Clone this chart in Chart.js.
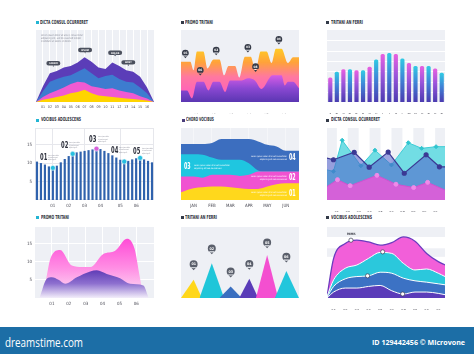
<!DOCTYPE html>
<html>
<head>
<meta charset="utf-8">
<title>Infographic charts</title>
<script src="https://cdn.jsdelivr.net/npm/chart.js@4.4.1/dist/chart.umd.min.js"></script>
<style>
  html, body { margin: 0; padding: 0; background: #fff; }
  #wrap { position: relative; width: 474px; height: 354px; overflow: hidden; background: #fff; }
  #wrap canvas { position: absolute; }
  .t { position: absolute; white-space: pre; transform-origin: 0 50%; line-height: 1; }
  .sq { position: absolute; width: 3px; height: 3px; }
  #foot { position: absolute; left: 0; top: 327px; width: 474px; height: 27px; background: #1c6ea6; }
</style>
</head>
<body>
<div id="wrap"><div id="foot"></div></div>
<script>
// ---------- data ----------
// 1. stacked mountain (cumulative tops)
var p1X = [0, 1, 2, 3, 4, 5, 6, 7, 8, 9, 10, 11, 12, 13, 14, 15, 16, 17];
var p1Ticks = ['01','02','03','04','05','06','07','08','09','10','11','12','13','14','15','16'];
var p1Purple = [0, 22, 40, 43, 48, 50, 55, 62, 56, 48, 46, 55, 50, 44, 42, 35, 20, 0];
var p1Blue = [0, 15, 28, 32, 35, 37, 42, 47, 40, 33, 36, 38, 32, 28, 27, 20, 12, 0];
var p1Pink = [0, 7, 12, 16, 20, 25, 28, 27, 22, 20, 18, 19, 16, 14, 12, 8, 5, 0];
var p1Yellow = [0, 3, 5, 7, 9, 12, 14, 17, 12, 9, 8, 7, 6, 5, 4, 3, 2, 0];
var p1NoteX = [2.5, 7.07, 11.4, 13.3];
var p1NoteY = [53.8, 72.2, 68.5, 55.1];
var p1NoteText = ['LOREM', 'IPSUM', 'DOLOR', 'AMET'];

// 2. rounded step layers
var p2Ticks = ['01', '02', '03', '04', '05', '06'];
var p2TopX = [0.13, 0.66, 0.85, 1.04, 1.41, 1.64, 1.98, 2.33, 2.59, 2.84, 3.22, 3.46, 3.78, 4.11, 4.39, 4.68, 5.02, 5.30, 5.55, 5.87, 6.24, 6.53, 6.87];
var p2TopY = [56, 56, 44, 70, 70, 46.5, 59, 59, 37, 50, 50, 34, 63, 63, 43, 70, 70, 54, 74, 74, 54, 62, 62];
var p2LowX = [0.13, 0.47, 0.76, 1.04, 1.41, 1.70, 1.98, 2.33, 2.65, 2.93, 3.6, 3.97, 4.35, 4.73, 5.36, 5.87, 6.06, 6.24, 6.53, 6.87];
var p2LowY = [16, 16, 5, 28, 28, 16, 28, 28, 14, 30, 30, 33, 30, 18, 37, 37, 23, 28, 28, 19];
var p2PinX = [0.38, 1.23, 2.14, 3.95, 4.39, 5.72];
var p2PinY = [68, 44, 72, 76, 49, 87];
var p2PinText = ['05', '06', '02', '03', '08', '04'];

// 3. bars A..R
var p3Labels = ['A','B','C','D','E','F','G','H','I','J','K','L','M','N','O','P','Q','R'];
var p3Values = [34, 42, 45.6, 45.6, 44, 44, 49, 59, 66.5, 68, 66.5, 60.5, 54, 50, 50, 50, 46.5, 40.5];

// 4. thin bars with markers
var p4Values = [10.4, 10.0, 9.6, 9.1, 8.7, 9.3, 10.2, 11.1, 11.9, 12.5, 12.9, 13.1, 13.3, 13.5, 13.7,
                13.9, 13.8, 13.3, 12.7, 12.1, 11.5, 10.9, 10.4, 10.6, 11.0, 11.3, 11.4, 11.0, 10.6, 10.2];
var p4Ticks = ['', '', '', '', '01', '', '', '', '02', '', '', '', '03', '', '', '', '04', '', '', '', '', '05', '', '', '', '06', '', '', '', ''];
var p4YTicks = [5, 10, 15];
var p4MarkIdx = [4, 9, 15, 22, 26];

// 5. flowing stacked bands (cumulative tops)
var p5X = [-0.68, 0, 0.5, 1, 1.5, 2, 2.5, 3, 3.5, 4, 4.5, 5, 5.72];
var p5Ticks = ['JAN', 'FEB', 'MAR', 'APR', 'MAY', 'JUN'];
var p5Blue = [77.7, 77.7, 77.7, 79, 84.7, 84.7, 84.7, 84.7, 81.4, 76.7, 74.4, 68.4, 68.4];
var p5Cyan = [63.7, 63.7, 63, 59, 55.8, 55.8, 55.8, 51, 41, 39.5, 39.5, 39.5, 39.5];
var p5Pink = [32.6, 32.6, 31, 34.9, 34.9, 34.9, 33.5, 34.9, 39.5, 39.5, 39.5, 39.5, 39.5];
var p5Yellow = [10.7, 16.3, 17.7, 18.6, 18.6, 17.7, 16.3, 15.3, 15.3, 18.6, 21.9, 23.3, 23.3];

// 6. overlapping areas
var p6Ticks = ['01','02','03','04','05','06','07','08','09','10'];
var p6YTicks = [0, 5, 10, 15, 20, 25, 30];
var p6CyanX = [0.1, 0.69, 1.49, 3.2, 4.49, 6.0, 7.54, 8.76, 10.08, 10.9];
var p6CyanY = [14.5, 13.8, 28.8, 16.5, 24, 16.9, 27.6, 24.9, 25.7, 25.7];
var p6NavyX = [0.1, 0.69, 2.59, 3.96, 5.7, 7.17, 9.17, 10.39, 10.9];
var p6NavyY = [20.2, 19.4, 23, 15.8, 23.1, 12.9, 21.8, 16, 16];
var p6PinkX = [0.1, 1.06, 2.22, 4.67, 6.41, 8.03, 9.31, 10.9];
var p6PinkY = [6.5, 9.8, 6.9, 11.9, 7.6, 6, 8.5, 4.8];

// 7. two smooth areas
var p7Ticks = ['01', '02', '03', '04', '05', '06'];
var p7YTicks = [5, 10, 15];
var p7PinkX = [0.27, 0.6, 0.91, 1.49, 2.18, 2.78, 3.27, 4.05, 4.75, 5.44, 5.9, 6.2, 6.45];
var p7PinkY = [0, 4, 10.8, 13.2, 8.9, 8.5, 8.5, 12.1, 13, 16.3, 13.5, 6, 0];
var p7PurpleX = [0.27, 0.7, 1.0, 1.39, 1.79, 2.48, 3.27, 3.66, 4.25, 5.04, 5.63, 6.42, 6.72];
var p7PurpleY = [0, 5.3, 5.7, 5.0, 3.9, 5.7, 7.3, 7.6, 6.6, 5.4, 3.9, 3.4, 0.2];

// 8. peaks with pins
var p8Left = [0, 15.7, 32.6, 49.4, 63.5, 79.5];
var p8Apex = [10.7, 26.1, 42.1, 57.9, 73, 89.3];
var p8Right = [17.7, 36.5, 51.4, 65.4, 82.3, 100];
var p8Height = [25.6, 48.8, 16.3, 27, 60.5, 38.1];
var p8PinY = [47.4, 69.8, 37.2, 47.9, 78.1, 58.1];
var p8PinText = ['01', '02', '03', '04', '05', '06'];

// 9. smooth layered areas (cumulative tops)
var p9X = [0.43, 1, 2, 3, 4, 5, 6, 7, 8, 9, 10, 10.58];
var p9Ticks = ['01','02','03','04','05','06','07','08','09','10'];
var p9Pink = [2, 55.8, 76.7, 81.4, 79, 74.4, 78.1, 86, 80, 62.8, 51.2, 46.5];
var p9Cyan = [2, 25.6, 41.9, 46.5, 55.8, 64.2, 62.8, 48.8, 39.5, 40.9, 34.9, 30.2];
var p9Blue = [1, 16.3, 27, 30.2, 31.2, 36.3, 34.9, 27.9, 24.2, 22.3, 20, 18.6];
var p9Violet = [0, 8.4, 14, 14, 16.3, 17.7, 10.2, 5.6, 8.4, 8.4, 6.5, 4.7];
var p9MarkX = [2.49, 5.22, 3.92, 6.94];
var p9MarkY = [81.4, 65, 31.2, 5.6];

// ---------- helpers ----------
var FONT = '"DejaVu Sans Condensed", "DejaVu Sans", sans-serif';
Chart.defaults.font.family = FONT;
Chart.defaults.color = '#4a4a55';
Chart.defaults.elements.point.radius = 0;
Chart.defaults.elements.point.hoverRadius = 0;

var wrap = document.getElementById('wrap');

function canvasAt(x, y, w, h) {
  var c = document.createElement('canvas');
  c.width = w; c.height = h;
  c.style.left = x + 'px'; c.style.top = y + 'px';
  c.style.width = w + 'px'; c.style.height = h + 'px';
  wrap.appendChild(c);
  return c;
}

function xy(xs, ys) {
  return xs.map(function (x, i) { return { x: x, y: ys[i] }; });
}

function fixedTicks(values) {
  return function (s) { s.ticks = values.map(function (v) { return { value: v }; }); };
}

function noPad(s) { s.paddingLeft = 0; s.paddingRight = 0; s.paddingTop = 0; s.paddingBottom = 0; }
function fitH(h) { return function (s) { s.height = h; noPad(s); }; }
function fitW(w) { return function (s) { s.width = w; noPad(s); }; }

function tickStyle(labels, size) {
  var t = { font: { size: size || 4.4 }, color: '#4a4a55', padding: 3, maxRotation: 0, autoSkip: false };
  if (labels) t.callback = function (v, i) { return labels[i]; };
  return t;
}

// vertical gradient between two values of the y scale
function vGrad(stops, topVal, botVal) {
  return function (c) {
    var ch = c.chart, a = ch.chartArea;
    if (!a) return stops[0];
    var y0 = ch.scales.y.getPixelForValue(topVal), y1 = ch.scales.y.getPixelForValue(botVal);
    var g = ch.ctx.createLinearGradient(0, y0, 0, y1);
    stops.forEach(function (s, i) { g.addColorStop(i / (stops.length - 1), s); });
    return g;
  };
}

function area(data, color, extra) {
  var d = { data: data, backgroundColor: color, fill: 'origin', borderWidth: 0, borderColor: 'transparent', tension: 0 };
  for (var k in extra) d[k] = extra[k];
  return d;
}

function baseOptions(scales, plugins) {
  var p = { legend: { display: false }, tooltip: { enabled: false } };
  for (var k in plugins) p[k] = plugins[k];
  return {
    responsive: false, animation: false, devicePixelRatio: 1, events: [],
    layout: { padding: 0, autoPadding: false },
    plugins: p, scales: scales
  };
}

// plot background, bands and frame
var panelBg = {
  id: 'panelBg',
  beforeDraw: function (chart, args, o) {
    if (!o.color) return;
    var a = chart.chartArea, ctx = chart.ctx;
    ctx.save();
    ctx.fillStyle = o.color;
    ctx.fillRect(a.left, a.top, a.right - a.left, a.bottom - a.top);
    ctx.fillStyle = o.bandColor || '#eef0f5';
    (o.xBands || []).forEach(function (b) {
      var x0 = Math.max(a.left, chart.scales.x.getPixelForValue(b[0]));
      var x1 = Math.min(a.right, chart.scales.x.getPixelForValue(b[1]));
      ctx.fillRect(x0, a.top, x1 - x0, a.bottom - a.top);
    });
    (o.yBands || []).forEach(function (b) {
      var y0 = chart.scales.y.getPixelForValue(b[1]), y1 = chart.scales.y.getPixelForValue(b[0]);
      ctx.fillRect(a.left, y0, a.right - a.left, y1 - y0);
    });
    if (o.stroke) {
      ctx.strokeStyle = o.stroke; ctx.lineWidth = 1;
      ctx.strokeRect(a.left + 0.5, a.top + 0.5, a.right - a.left - 1, a.bottom - a.top - 1);
    }
    ctx.restore();
  }
};

// map pins / pill callouts
var pinPlugin = {
  id: 'pins',
  afterDatasetsDraw: function (chart, args, o) {
    if (!o.xs) return;
    var ctx = chart.ctx, sx = chart.scales.x, sy = chart.scales.y;
    ctx.save();
    o.xs.forEach(function (xv, i) {
      var px = sx.getPixelForValue(xv), py = sy.getPixelForValue(o.ys[i]);
      ctx.fillStyle = o.color;
      ctx.beginPath();
      if (o.pill) {
        ctx.roundRect(px - o.w / 2, py - o.h / 2, o.w, o.h, o.h / 2);
        ctx.moveTo(px - 1.2, py + o.h / 2 - 0.2);
        ctx.lineTo(px, py + o.h / 2 + 1.4);
        ctx.lineTo(px + 1.2, py + o.h / 2 - 0.2);
      } else {
        ctx.arc(px, py, o.r, 0, Math.PI * 2);
        ctx.moveTo(px - o.r * 0.7, py + o.r * 0.7);
        ctx.lineTo(px, py + o.r + 1.8);
        ctx.lineTo(px + o.r * 0.7, py + o.r * 0.7);
      }
      ctx.fill();
      ctx.fillStyle = '#ffffff';
      ctx.font = 'bold ' + o.size + 'px ' + FONT;
      ctx.textAlign = 'center';
      ctx.textBaseline = 'middle';
      ctx.fillText(o.texts[i], px, py + 0.2);
    });
    ctx.restore();
  }
};
Chart.register(panelBg, pinPlugin);

// ---------- 1 ----------
new Chart(canvasAt(36, 30, 118, 84), {
  type: 'line',
  data: { datasets: [
    area(xy(p1X, p1Yellow), '#ffd400'),
    area(xy(p1X, p1Pink), '#f05ad2'),
    area(xy(p1X, p1Blue), '#3d7ccf'),
    area(xy(p1X, p1Purple), '#5b3db8')
  ]},
  options: baseOptions({
    x: { type: 'linear', min: 0, max: 17, afterBuildTicks: fixedTicks(p1X.slice(1, 17)), afterFit: fitH(12),
         ticks: tickStyle(p1Ticks, 3.6), grid: { color: '#ffffff', drawTicks: false }, border: { display: false } },
    y: { display: false, min: 0, max: 100 }
  }, {
    panelBg: { color: '#eef0f5' },
    pins: { xs: p1NoteX, ys: p1NoteY, texts: p1NoteText, color: '#4b505d', pill: true, w: 14, h: 4.4, size: 2.4 }
  })
});

// ---------- 2 ----------
new Chart(canvasAt(181, 30, 118, 84), {
  type: 'line',
  data: { datasets: [
    area(xy(p2LowX, p2LowY), vGrad(['#d95de6', '#8a48d2', '#5a36b2'], 38, 0), { cubicInterpolationMode: 'monotone', tension: 0.4 }),
    area(xy(p2TopX, p2TopY), vGrad(['#ffcd24', '#ffa23a', '#ff78a0', '#ff64b8'], 75, 15), { cubicInterpolationMode: 'monotone', tension: 0.4 })
  ]},
  options: baseOptions({
    x: { type: 'linear', min: 0.13, max: 6.87, afterBuildTicks: fixedTicks([1, 2, 3, 4, 5, 6]), afterFit: fitH(12),
         ticks: tickStyle(p2Ticks), grid: { display: false }, border: { display: false } },
    y: { display: false, min: 0, max: 100 }
  }, {
    panelBg: { color: '#eef0f5' },
    pins: { xs: p2PinX, ys: p2PinY, texts: p2PinText, color: '#363b48', r: 3.4, size: 3.2 }
  })
});

// ---------- 3 ----------
// each bar fades from a bright cap (magenta / cyan, alternating) to indigo at the base
function barGrad(c) {
  var ch = c.chart, a = ch.chartArea;
  if (!a || c.raw == null) return '#3d7ccf';
  var g = ch.ctx.createLinearGradient(0, ch.scales.y.getPixelForValue(c.raw), 0, a.bottom);
  var odd = c.dataIndex % 2;
  g.addColorStop(0, odd ? '#30cbe4' : '#e860e0');
  g.addColorStop(0.45, odd ? '#3f86d8' : '#9a55da');
  g.addColorStop(1, '#4a3bb0');
  return g;
}
new Chart(canvasAt(327, 30, 118, 84), {
  type: 'bar',
  data: { labels: p3Labels, datasets: [
    { data: p3Values, backgroundColor: barGrad, barPercentage: 0.64, categoryPercentage: 1, borderRadius: 1.5 }
  ]},
  options: baseOptions({
    x: { afterFit: fitH(12), ticks: tickStyle(null, 4), grid: { display: false }, border: { display: false } },
    y: { min: 0, max: 100, afterBuildTicks: fixedTicks([13, 27.4, 41.8, 56.2, 70.6, 85]), afterFit: fitW(0),
         ticks: { display: false }, grid: { color: '#ffffff', drawTicks: false }, border: { display: false } }
  }, { panelBg: { color: '#eef0f5' } })
});

// ---------- 4 ----------
new Chart(canvasAt(25, 128, 129, 84), {
  type: 'bar',
  data: { labels: p4Ticks, datasets: [
    { type: 'line', data: p4Values.map(function (v, i) { return p4MarkIdx.indexOf(i) >= 0 ? v : null; }),
      showLine: false, pointRadius: 2.5,
      pointBackgroundColor: function (c) { return c.dataIndex === p4MarkIdx[2] ? '#d95fd8' : '#27bfe0'; },
      pointBorderColor: '#e8f6fb', pointBorderWidth: 0.6 },
    { data: p4Values, backgroundColor: '#2f62ad', barPercentage: 0.55, categoryPercentage: 1 }
  ]},
  options: baseOptions({
    x: { afterFit: fitH(12), ticks: tickStyle(p4Ticks),
         grid: { offset: false, drawTicks: false,
                 color: function (c) { var l = p4Ticks[c.index]; return (l === '01' || l === '03' || l === '05') ? '#e6e7ec' : 'rgba(0,0,0,0)'; } },
         border: { display: false } },
    y: { min: 0, max: 19.5, afterBuildTicks: fixedTicks(p4YTicks), afterFit: fitW(10),
         ticks: { font: { size: 4.4 }, color: '#4a4a55', padding: 3 },
         grid: { color: '#e6e7ec', drawTicks: false }, border: { display: false } }
  }, { panelBg: { color: '#ffffff', stroke: '#e6e7ec' } })
});

// ---------- 5 ----------
var mono = { cubicInterpolationMode: 'monotone', tension: 0.4 };
new Chart(canvasAt(181, 128, 118, 84), {
  type: 'line',
  data: { datasets: [
    area(xy(p5X, p5Yellow), '#ffd81c', mono),
    area(xy(p5X, p5Pink), '#f052d1', mono),
    area(xy(p5X, p5Cyan), '#1fc6e0', mono),
    area(xy(p5X, p5Blue), '#3c6ebf', mono)
  ]},
  options: baseOptions({
    x: { type: 'linear', min: -0.68, max: 5.72, afterBuildTicks: fixedTicks([0, 1, 2, 3, 4, 5]), afterFit: fitH(12), z: 1,
         ticks: tickStyle(p5Ticks), grid: { color: 'rgba(255,255,255,0.4)', drawTicks: false }, border: { display: false } },
    y: { display: false, min: 0, max: 100 }
  }, { panelBg: { color: '#eef0f5' } })
});

// ---------- 6 ----------
function innerPts(n, r) { return function (c) { return (c.dataIndex === 0 || c.dataIndex === n - 1) ? 0 : r; }; }
new Chart(canvasAt(318, 128, 127, 84), {
  type: 'line',
  data: { datasets: [
    area(xy(p6PinkX, p6PinkY), 'rgba(222,92,216,0.92)',
         { borderColor: '#cf52d0', borderWidth: 1, pointRadius: innerPts(p6PinkX.length, 2),
           pointBackgroundColor: '#f08ae9', pointBorderColor: '#f08ae9' }),
    area(xy(p6NavyX, p6NavyY), 'rgba(78,92,200,0.55)',
         { borderColor: '#3b3994', borderWidth: 1.2, pointRadius: innerPts(p6NavyX.length, 2),
           pointBackgroundColor: '#3b3994', pointBorderColor: '#3b3994' }),
    area(xy(p6CyanX, p6CyanY), '#72dde4',
         { borderColor: '#3ccdd6', borderWidth: 1, pointStyle: 'rectRot', pointRadius: innerPts(p6CyanX.length, 2),
           pointBackgroundColor: '#2fc4cf', pointBorderColor: '#2fc4cf' })
  ]},
  options: baseOptions({
    x: { type: 'linear', min: 0.1, max: 10.9, afterBuildTicks: fixedTicks([1, 2, 3, 4, 5, 6, 7, 8, 9, 10]), afterFit: fitH(12),
         ticks: tickStyle(p6Ticks, 4), grid: { display: false }, border: { display: false } },
    y: { min: 0, max: 34.7, afterBuildTicks: fixedTicks(p6YTicks), afterFit: fitW(9),
         ticks: { font: { size: 3.8 }, color: '#4a4a55', padding: 3 }, grid: { display: false }, border: { display: false } }
  }, { panelBg: { color: '#ffffff', bandColor: '#eef0f5', xBands: [[0, 1], [2, 3], [4, 5], [6, 7], [8, 9], [10, 11]] } })
});

// ---------- 7 ----------
new Chart(canvasAt(25, 227, 129, 83), {
  type: 'line',
  data: { datasets: [
    area(xy(p7PurpleX, p7PurpleY), vGrad(['#5a37b3', '#8d6fcf', '#f3eefa'], 8, 0), mono),
    area(xy(p7PinkX, p7PinkY), vGrad(['#ff4ad6', '#ff8ee4', '#fbe8f6'], 16.5, 0), mono)
  ]},
  options: baseOptions({
    x: { type: 'linear', min: 0, max: 7.05, afterBuildTicks: fixedTicks([1, 2, 3, 4, 5, 6]), afterFit: fitH(12),
         ticks: tickStyle(p7Ticks), grid: { color: '#ffffff', drawTicks: false }, border: { display: false } },
    y: { min: 0, max: 19.5, afterBuildTicks: fixedTicks(p7YTicks), afterFit: fitW(10),
         ticks: { font: { size: 4.4 }, color: '#4a4a55', padding: 3 }, grid: { color: '#ffffff', drawTicks: false }, border: { display: false } }
  }, { panelBg: { color: '#eef0f5' } })
});

// ---------- 8 ----------
var p8Colors = ['#ffd71a', '#1fc6d9', '#3a6fc0', '#5a3cb8', '#f44fd0', '#22c6dc'];
var p8Sets = p8Apex.map(function (ax, i) {
  return area(xy([p8Left[i], ax, p8Right[i]], [0, p8Height[i], 0]), p8Colors[i]);
}).reverse();
new Chart(canvasAt(181, 227, 118, 71), {
  type: 'line',
  data: { datasets: p8Sets },
  options: baseOptions({
    x: { type: 'linear', display: false, min: 0, max: 100 },
    y: { display: false, min: 0, max: 100 }
  }, {
    panelBg: { color: '#eef0f5' },
    pins: { xs: p8Apex, ys: p8PinY, texts: p8PinText, color: '#5a5f6b', r: 4, size: 3.6 }
  })
});

// ---------- 9 ----------
new Chart(canvasAt(327, 227, 118, 83), {
  type: 'line',
  data: { datasets: [
    { data: xy(p9MarkX, p9MarkY), showLine: false, pointRadius: 2.1, pointBackgroundColor: '#ffffff',
      pointBorderColor: '#3c3c55', pointBorderWidth: 0.7, fill: false },
    area(xy(p9X, p9Violet), '#5b3cb9', { borderColor: '#ffffff', borderWidth: 1, cubicInterpolationMode: 'monotone', tension: 0.4 }),
    area(xy(p9X, p9Blue), '#3c72c4', { borderColor: '#ffffff', borderWidth: 1, cubicInterpolationMode: 'monotone', tension: 0.4 }),
    area(xy(p9X, p9Cyan), '#2bc8dc', { borderColor: '#ffffff', borderWidth: 1, cubicInterpolationMode: 'monotone', tension: 0.4 }),
    area(xy(p9X, p9Pink), '#f25fd9', { borderColor: '#6a3cbf', borderWidth: 1.3, cubicInterpolationMode: 'monotone', tension: 0.4 })
  ]},
  options: baseOptions({
    x: { type: 'linear', min: 0.43, max: 10.58, afterBuildTicks: fixedTicks([1, 2, 3, 4, 5, 6, 7, 8, 9, 10]), afterFit: fitH(12),
         ticks: tickStyle(p9Ticks, 4), grid: { display: false }, border: { display: false } },
    y: { display: false, min: 0, max: 100 }
  }, { panelBg: { color: '#ffffff', bandColor: '#eef0f5', yBands: [[86, 100], [58, 70]] } })
});

// ---------- text ----------
function addText(o) {
  var d = document.createElement('div');
  d.className = 't';
  d.textContent = o.text;
  d.style.fontFamily = o.family || FONT;
  d.style.fontSize = o.size + 'px';
  d.style.fontWeight = o.weight || 'normal';
  d.style.color = o.color;
  d.style.lineHeight = o.lh || 1;
  d.style.textAlign = o.align || 'left';
  wrap.appendChild(d);
  var r = d.getBoundingClientRect();
  var k = o.w ? o.w / r.width : 1;
  d.style.left = (o.align === 'right' ? o.x - r.width * k : o.x) + 'px';
  d.style.top = (o.y - r.height / 2) + 'px';
  d.style.transform = 'scaleX(' + k + ')';
}

var titles = [
  ['DICTA CONSUL OCURRERET', 40, 22.7, 48, '#23b5d3'],
  ['PROMO TRITANI', 185, 22.7, 28, '#333a48'],
  ['TRITANI AN FERRI', 330.5, 22.7, 32, '#333a48'],
  ['VOCIBUS ADOLESCENS', 40.7, 120, 40, '#23b5d3'],
  ['CHORO VOCIBUS', 186, 120, 28, '#4a3d7a'],
  ['DICTA CONSUL OCURRERET', 330.5, 120, 49, '#333a48'],
  ['PROMO TRITANI', 40.7, 217.7, 28, '#23b5d3'],
  ['TRITANI AN FERRI', 185, 217.7, 32, '#333a48'],
  ['VOCIBUS ADOLESCENS', 330.5, 217.7, 41, '#333a48']
];
titles.forEach(function (t) {
  var s = document.createElement('div');
  s.className = 'sq';
  s.style.left = (t[1] - 4.5) + 'px';
  s.style.top = (t[2] - 1.5) + 'px';
  s.style.background = t[4];
  wrap.appendChild(s);
  addText({ text: t[0], x: t[1], y: t[2], w: t[3], size: 5.6, weight: 'bold', color: '#2d2f3a' });
});

// panel 1 note
addText({ text: 'Lorem ipsum dolor sit amet, consectetur\nadipiscing elit, sed do eiusmod tempor\nincididunt ut labore et dolore',
          x: 41.3, y: 39.7, w: 42, size: 2.6, lh: 1.15, color: '#8a8c98' });

// panel 4 big numbers and notes
var p4Notes = [['01', 40, 157.7], ['02', 61, 145.2], ['03', 89.3, 139.3], ['04', 110.7, 150], ['05', 133.3, 151]];
p4Notes.forEach(function (n) {
  addText({ text: n[0], x: n[1], y: n[2], w: 7.3, size: 9, weight: 'bold', color: '#2c2f3b' });
  addText({ text: 'Lorem ipsum dolor\nsit amet consect\nadipiscing elit', x: n[1] + 8.3, y: n[2] - 0.5, w: 11, size: 1.9, lh: 1.2, color: '#8a8c98' });
});

// panel 5 numbers and notes
addText({ text: '03', x: 184, y: 167.2, w: 6.7, size: 8, weight: 'bold', color: '#ffffff' });
addText({ text: 'Lorem ipsum dolor sit amet consectetur\nadipiscing elit sed do eiusmod', x: 193.5, y: 167, w: 36, size: 2.1, lh: 1.3, color: '#ffffff' });
[['04', 158], ['02', 178], ['01', 194]].forEach(function (n) {
  addText({ text: n[0], x: 289.3, y: n[1], w: 6.7, size: 8, weight: 'bold', color: '#ffffff' });
  addText({ text: 'Lorem ipsum dolor sit amet consectetur\nadipiscing elit sed do eiusmod', x: 286.5, y: n[1] - 0.5, w: 36, size: 2.1, lh: 1.3, color: '#ffffff', align: 'right' });
});

// panel 9 label
addText({ text: 'PRIMIS', x: 346.5, y: 234.5, w: 8.5, size: 3, weight: 'bold', color: '#2d2f3a' });

// footer
addText({ text: 'dreamstime.com', x: 5, y: 342.5, w: 78, size: 13, family: '"Open Sans", sans-serif', color: '#ffffff' });
addText({ text: 'ID 129442456 \u00a9 Microvone', x: 372, y: 343, w: 93, size: 7.5, weight: 'bold', family: '"Open Sans", sans-serif', color: '#ffffff' });
</script>
</body>
</html>
